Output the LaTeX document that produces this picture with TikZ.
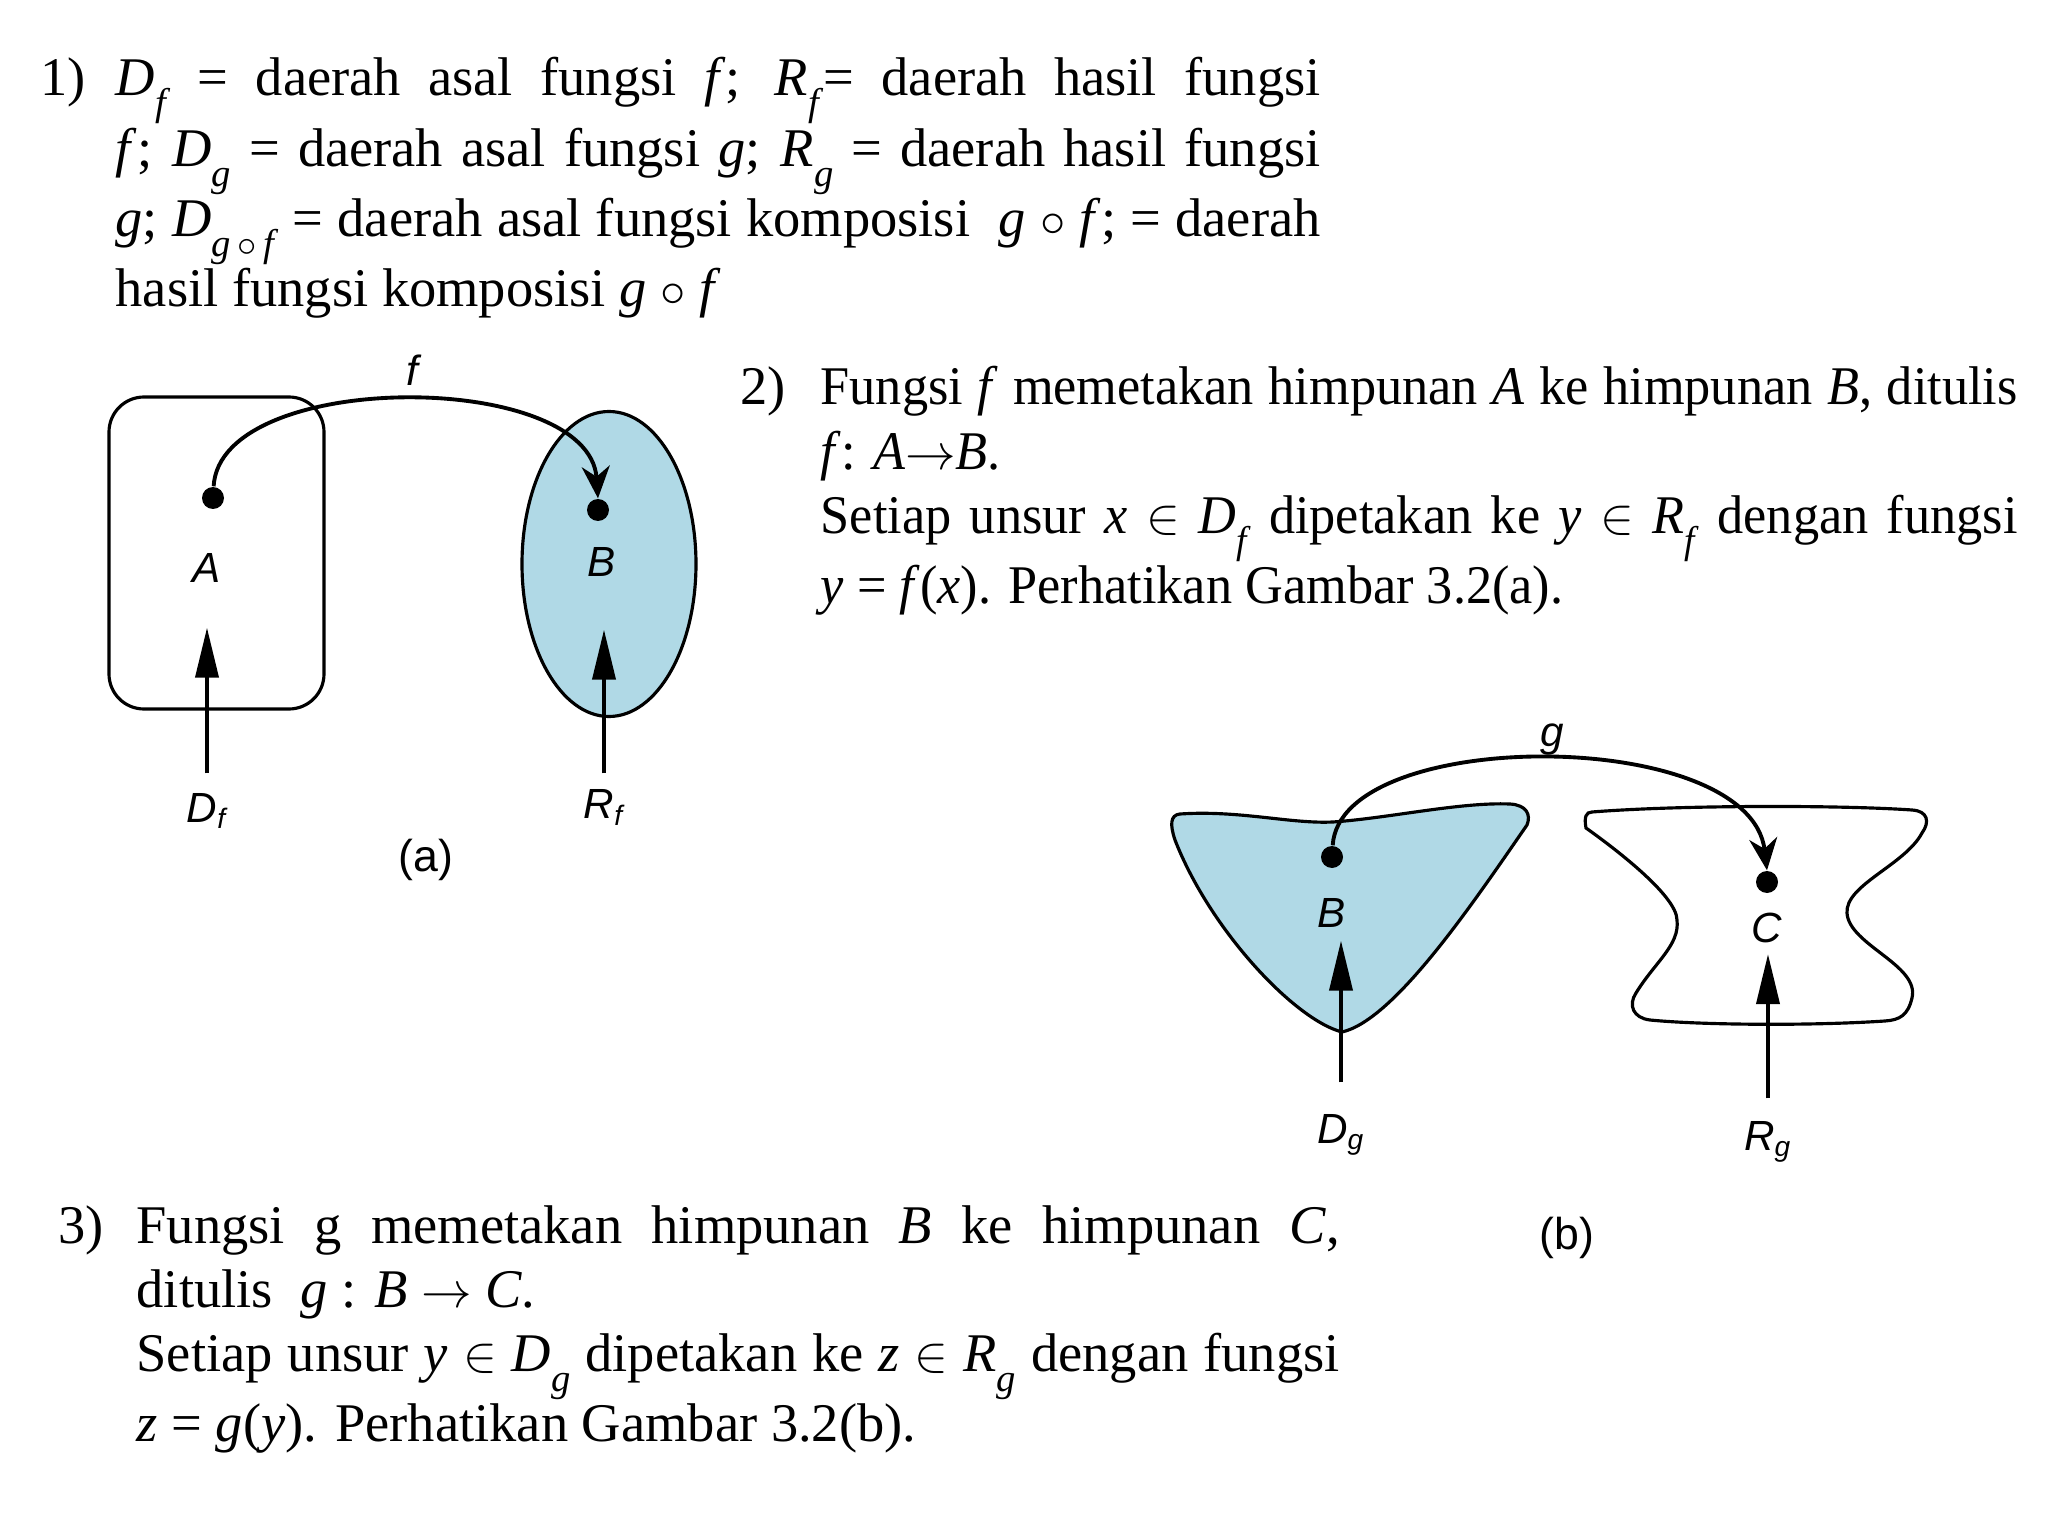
\documentclass[tikz,border=0pt]{standalone}
\usepackage{fontspec}
\setmainfont{Liberation Serif}
\newfontfamily\narrowserif{Liberation Serif}[FakeStretch=0.96]
\newfontfamily\figfont{Liberation Sans}
\usetikzlibrary{shapes.geometric, arrows.meta}
\definecolor{setblue}{RGB}{176,217,230}
\newcommand{\itv}[1]{\textit{#1}}
\newcommand{\idx}[2]{\textit{#1}\raisebox{-0.8ex}{\fontsize{11}{11}\selectfont\textit{#2}}}
\tikzstyle{setline} = [draw, line width=0.9pt]
\tikzstyle{point} = [circle, fill=black, inner sep=0pt, minimum size=2.2mm]
\tikzstyle{mapto} = [-{Stealth[length=3.2mm, width=2.8mm]}, line width=1.1pt]
\tikzstyle{pointer} = [-{Triangle[length=5mm, width=2.3mm]}, line width=1.1pt]
\tikzstyle{lbl} = [inner sep=0pt, font=\figfont\itshape\fontsize{12}{14}\selectfont]
\tikzstyle{figcap} = [inner sep=0pt, anchor=base, font=\figfont\fontsize{12.7}{15}\selectfont]
\tikzstyle{para} = [inner sep=0pt, anchor=base west, align=justify, font=\fontsize{15.5}{18.3}\selectfont]
\tikzstyle{num} = [inner sep=0pt, anchor=base west, font=\fontsize{15.5}{18.3}\selectfont]

\begin{document}
\begin{tikzpicture}
  \useasboundingbox (0,0) rectangle (20.48,-15.36);

  % teks 1
  \node[num] (n1) at (0.40,-0.96) {1)};
  \node[para, text width=12.05cm] (p1) at (1.15,-0.96) {%
    \idx{D}{f} = daerah asal fungsi \itv{f}; \idx{R}{f}= daerah hasil fungsi\linebreak
    \itv{f}; \idx{D}{g} = daerah asal fungsi \itv{g}; \idx{R}{g} = daerah hasil fungsi\linebreak
    \itv{g}; \idx{D}{g\,$\circ$\,f} = daerah asal fungsi komposisi\ \ \itv{g} $\circ$ \itv{f}; = daerah\linebreak
    hasil fungsi komposisi \itv{g} $\circ$ \itv{f}};

  % teks 2
  \node[num] (n2) at (7.40,-4.05) {2)};
  \node[para, text width=11.97cm, font=\narrowserif\fontsize{15.5}{18.3}\selectfont] (p2) at (8.20,-4.05) {%
    Fungsi \itv{f} memetakan himpunan \itv{A} ke himpunan \itv{B}, ditulis\linebreak
    \itv{f}: \itv{A}$\rightarrow$\itv{B}.\\
    Setiap unsur \itv{x} $\in$ \idx{D}{f} dipetakan ke \itv{y} $\in$ \idx{R}{f} dengan fungsi\linebreak
    \itv{y} = \itv{f}(\itv{x}). Perhatikan Gambar 3.2(a).};

  % teks 3
  \node[num] (n3) at (0.58,-12.43) {3)};
  \node[para, text width=12.03cm] (p3) at (1.36,-12.43) {%
    Fungsi g memetakan himpunan \itv{B} ke himpunan \itv{C},\linebreak
    ditulis\enspace \itv{g} : \itv{B} $\rightarrow$ \itv{C}.\\
    Setiap unsur \itv{y} $\in$ \idx{D}{g} dipetakan ke \itv{z} $\in$ \idx{R}{g} dengan fungsi\linebreak
    \itv{z} = \itv{g}(\itv{y}). Perhatikan Gambar 3.2(b).};

  % gambar (a)
  \node[setline, rounded corners=3.5mm, minimum width=2.15cm, minimum height=3.12cm] (setA) at (2.165,-5.53) {};
  \node[setline, ellipse, fill=setblue, minimum width=1.74cm, minimum height=3.05cm] (setB) at (6.09,-5.64) {};
  \node[lbl, anchor=base] (lblA) at (2.07,-5.82) {A};
  \node[lbl, anchor=base] (lblB) at (6.02,-5.77) {B};
  \node[point] (dA) at (2.13,-4.98) {};
  \node[point] (dB) at (5.98,-5.10) {};
  \node[lbl] (fname) at (4.12,-3.70) {f};
  \node[lbl, anchor=base] (Df) at (2.07,-8.22) {D\textsubscript{f}};
  \node[lbl, anchor=base] (Rf) at (6.04,-8.19) {R\textsubscript{f}};
  \node[figcap] (capa) at (4.26,-8.71) {(a)};

  \draw[mapto] (dA) .. controls (2.2,-3.69) and (5.89,-3.69) .. (dB.north);
  \draw[pointer] ([yshift=1.9mm]Df.north) -- ([yshift=-4.5mm]Df.north |- lblA.south);
  \draw[pointer] ([yshift=1.6mm]Rf.north) -- ([yshift=-5.2mm]Rf.north |- lblB.south);

  % gambar (b)
  \draw[setline, fill=setblue] (11.80,-8.14) .. controls (12.4,-8.10) and (12.9,-8.24) .. (13.33,-8.22)
    .. controls (13.9,-8.18) and (14.6,-8.02) .. (15.10,-8.04)
    .. controls (15.27,-8.05) and (15.31,-8.15) .. (15.27,-8.25)
    .. controls (14.75,-9.0) and (13.95,-10.2) .. (13.42,-10.32)
    .. controls (12.95,-10.2) and (12.1,-9.3) .. (11.75,-8.40)
    .. controls (11.70,-8.25) and (11.70,-8.15) .. cycle;
  \draw[setline] (15.92,-8.12) .. controls (16.8,-8.05) and (18.4,-8.05) .. (19.12,-8.10)
    .. controls (19.28,-8.11) and (19.30,-8.22) .. (19.22,-8.33)
    .. controls (19.05,-8.65) and (18.45,-8.85) .. (18.47,-9.13)
    .. controls (18.49,-9.45) and (19.20,-9.65) .. (19.12,-9.98)
    .. controls (19.08,-10.15) and (19.0,-10.20) .. (18.85,-10.21)
    .. controls (18.1,-10.26) and (17.0,-10.25) .. (16.50,-10.20)
    .. controls (16.33,-10.18) and (16.28,-10.05) .. (16.36,-9.93)
    .. controls (16.55,-9.62) and (16.80,-9.45) .. (16.77,-9.20)
    .. controls (16.77,-8.95) and (16.10,-8.45) .. (15.86,-8.28)
    .. controls (15.84,-8.17) and (15.86,-8.12) .. cycle;
  \node[lbl, anchor=base] (lblBg) at (13.32,-9.27) {B};
  \node[lbl, anchor=base] (lblC) at (17.67,-9.42) {C};
  \node[point] (dBg) at (13.32,-8.57) {};
  \node[point] (dC) at (17.67,-8.82) {};
  \node[lbl] (gname) at (15.52,-7.40) {g};
  \node[lbl, anchor=base] (Dg) at (13.41,-11.43) {D\textsubscript{g}};
  \node[lbl, anchor=base] (Rg) at (17.68,-11.50) {R\textsubscript{g}};
  \node[figcap] (capb) at (15.67,-12.49) {(b)};

  \draw[mapto] (dBg) .. controls (13.4,-7.26) and (17.5,-7.26) .. (dC.north);
  \draw[pointer] ([yshift=3.1mm]Dg.north) -- ([yshift=-1.3mm]Dg.north |- lblBg.south);
  \draw[pointer] ([yshift=2.2mm]Rg.north) -- ([yshift=-1.1mm]Rg.north |- lblC.south);
\end{tikzpicture}
\end{document}
